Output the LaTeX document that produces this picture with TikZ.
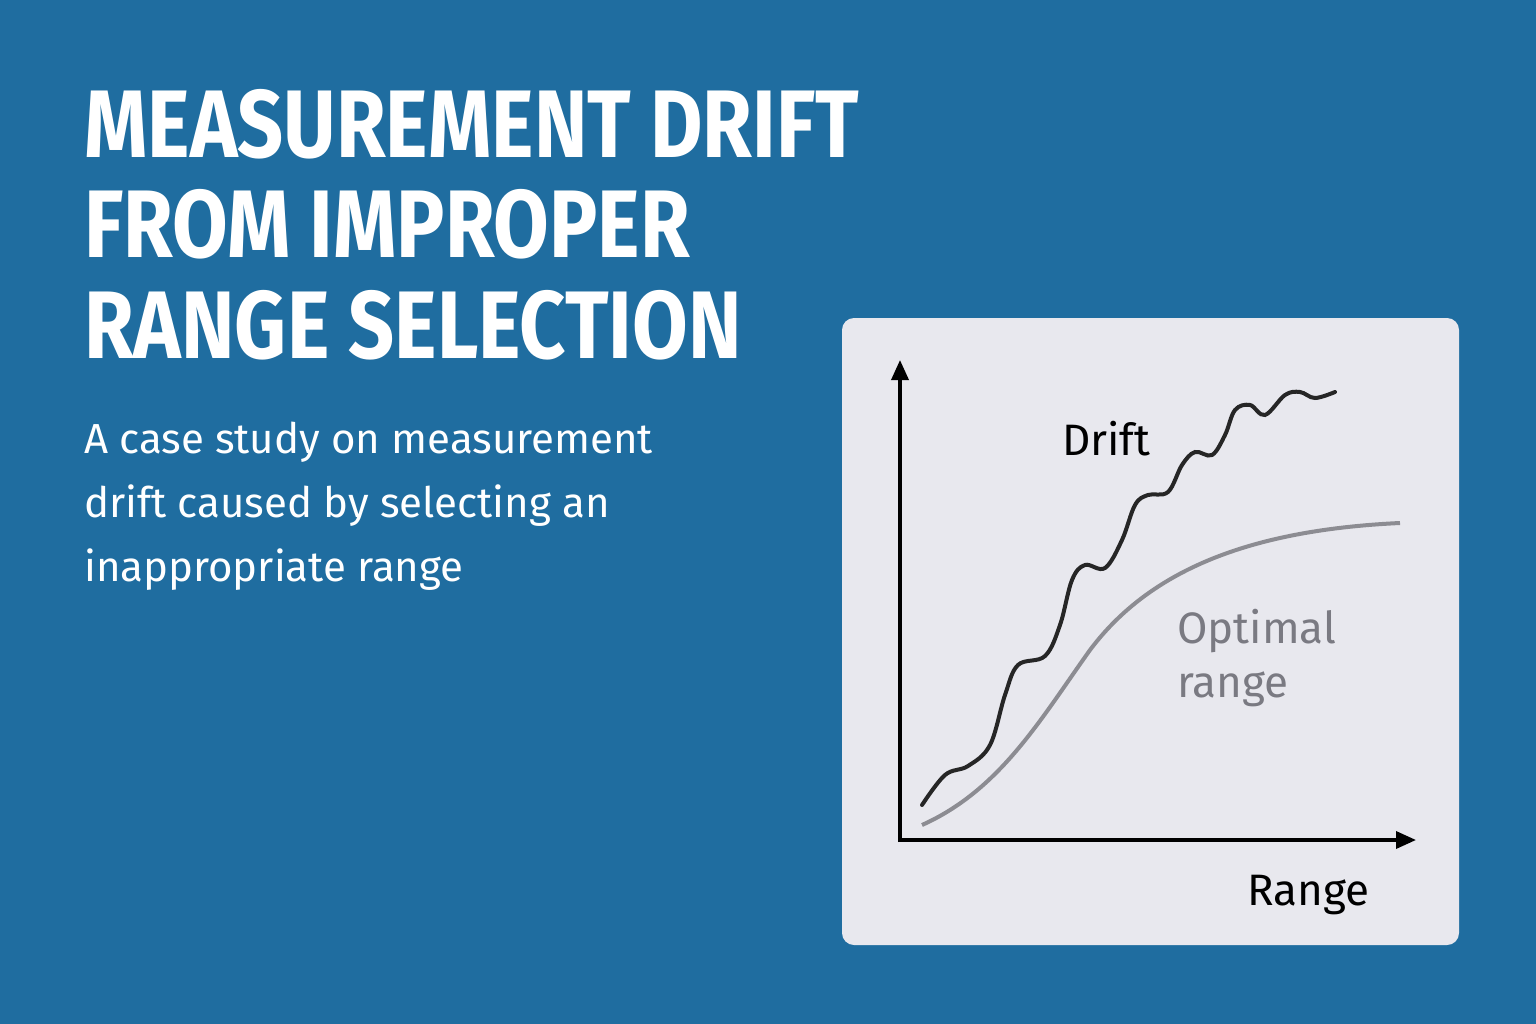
\documentclass[tikz,border=0pt]{standalone}
\usepackage{fontspec}
\setmainfont{Fira Sans}
\newfontfamily\titlefont[FakeStretch=0.84]{Fira Sans}
\usetikzlibrary{arrows.meta}
\definecolor{bg}{HTML}{1F6DA0}
\definecolor{panel}{HTML}{E8E8EE}
\definecolor{optc}{HTML}{8C8C92}
\definecolor{optt}{HTML}{7A7A82}
\begin{document}
\begin{tikzpicture}[x=1pt,y=-1pt,
  ttl/.style={anchor=base west,text=white,font=\titlefont\bfseries\fontsize{96}{96}\selectfont,inner sep=0},
  sub/.style={anchor=base west,text=white,font=\fontsize{42}{42}\selectfont,inner sep=0},
  lbl/.style={anchor=base west,inner sep=0,font=\fontsize{44}{44}\selectfont}]
\fill[bg] (0,0) rectangle (1536,1024);
\useasboundingbox (0,0) rectangle (1536,1024);
\node[ttl] (t1) at (84,158) {MEASUREMENT DRIFT};
\node[ttl] (t2) at (84,258) {FROM IMPROPER};
\node[ttl] (t3) at (84,358) {RANGE SELECTION};
\node[sub] (s1) at (84,453) {A case study on measurement};
\node[sub] (s2) at (84,517) {drift caused by selecting an};
\node[sub] (s3) at (84,581) {inappropriate range};
\fill[panel,rounded corners=12] (842,318) rectangle (1459,945);
\coordinate (o) at (900,840);
\coordinate (ytop) at (900,360);
\coordinate (xend) at (1416,840);
\draw[line width=3.5,-{Triangle[length=20,width=17]}] (900,842) -- (ytop);
\draw[line width=3.5,-{Triangle[length=20,width=17]}] (898,840) -- (xend);
\draw[optc,line width=4] (922,825) .. controls (1000,790) and (1040,720) .. (1090,650)
  .. controls (1150,570) and (1250,530) .. (1400,523);
\draw[black!85,line width=4,line cap=round] plot[smooth,tension=0.6] coordinates {
 (922,805) (945,775) (968,766) (990,745) (1005,695) (1018,665) (1045,656) (1060,625)
 (1072,580) (1085,565) (1105,568) (1122,540) (1135,505) (1148,495) (1168,492)
 (1182,465) (1195,452) (1212,455) (1225,435) (1235,410) (1250,405) (1265,415)
 (1285,395) (1300,392) (1315,398) (1335,392)};
\node[lbl] (drift) at (1062,455) {Drift};
\node[lbl,text=optt] (opt1) at (1177,643) {Optimal};
\node[lbl,text=optt] (opt2) at (1177,697) {range};
\node[lbl,anchor=base east] (rng) at (1370,905) {Range};
\end{tikzpicture}
\end{document}
